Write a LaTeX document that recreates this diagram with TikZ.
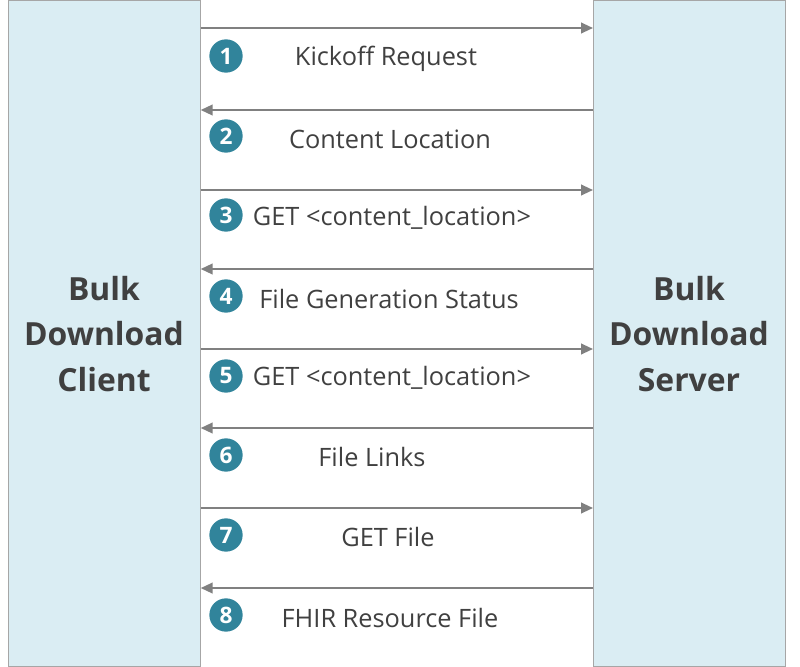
\documentclass[tikz,border=0pt]{standalone}
\usepackage{fontspec}
\setmainfont{Open Sans}
\usetikzlibrary{arrows.meta}
\definecolor{boxfill}{HTML}{DAEDF3}
\definecolor{boxline}{HTML}{A6A6A6}
\definecolor{arrowc}{HTML}{808080}
\definecolor{txt}{HTML}{404040}
\definecolor{teal}{HTML}{31849B}
\tikzset{
  party/.style={draw=boxline, line width=0.9pt, fill=boxfill, minimum width=191.5*0.75pt, minimum height=666*0.75pt, anchor=north west, inner sep=0pt},
  partylabel/.style={text=txt, font=\fontsize{23.9}{34}\selectfont\bfseries, align=center},
  msg/.style={draw=arrowc, line width=1.5pt, -{Triangle[length=9pt,width=8pt]}},
  numc/.style={circle, fill=teal, minimum size=25pt, inner sep=0pt, text=white, font=\fontsize{17}{17}\selectfont\bfseries},
  msglabel/.style={text=txt, font=\fontsize{19}{21}\selectfont, anchor=center}
}
\begin{document}
\begin{tikzpicture}[x=0.75pt,y=-0.75pt]
\useasboundingbox (0,0) rectangle (800,667);
\node[party] (client) at (8,0) {};
\node[party] (server) at (593,0) {};
\node[partylabel] (clientlabel) at (104,334) {Bulk\\Download\\Client};
\node[partylabel] (serverlabel) at (689,334) {Bulk\\Download\\Server};

% arrow coordinates
\foreach \i/\y in {1/28,2/110,3/190,4/269,5/349,6/428,7/508,8/588}{
  \coordinate (cl\i) at (client.north east |- 0,\y);
  \coordinate (sv\i) at (server.north west |- 0,\y);
}
\draw[msg] (cl1) -- (sv1);
\draw[msg] (sv2) -- (cl2);
\draw[msg] (cl3) -- (sv3);
\draw[msg] (sv4) -- (cl4);
\draw[msg] (cl5) -- (sv5);
\draw[msg] (sv6) -- (cl6);
\draw[msg] (cl7) -- (sv7);
\draw[msg] (sv8) -- (cl8);

\node[numc] (n1) at (226,56) {1};
\node[numc] (n2) at (226,136) {2};
\node[numc] (n3) at (226,215) {3};
\node[numc] (n4) at (226,296) {4};
\node[numc] (n5) at (226,376) {5};
\node[numc] (n6) at (226,455) {6};
\node[numc] (n7) at (226,535) {7};
\node[numc] (n8) at (226,615) {8};

\node[msglabel] (m1) at (386,59) {Kickoff Request};
\node[msglabel] (m2) at (390,139) {Content Location};
\node[msglabel] (m3) at (392,218) {GET <content\_location>};
\node[msglabel] (m4) at (389,299) {File Generation Status};
\node[msglabel] (m5) at (392,378) {GET <content\_location>};
\node[msglabel] (m6) at (372,457) {File Links};
\node[msglabel] (m7) at (388,537) {GET File};
\node[msglabel] (m8) at (390,618) {FHIR Resource File};
\end{tikzpicture}
\end{document}
